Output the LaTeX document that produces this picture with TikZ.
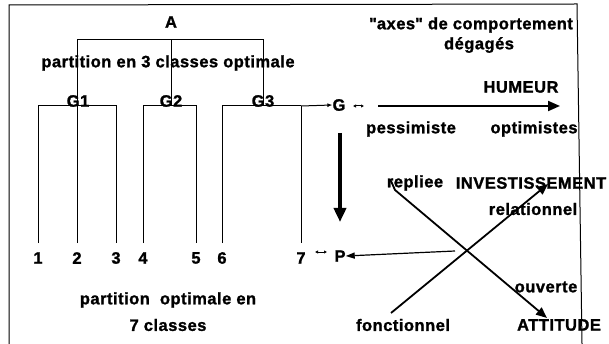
\documentclass[tikz,border=0pt]{standalone}
\usepackage{fontspec}
\setmainfont{Liberation Sans}[BoldFeatures={FakeBold=1.3,LetterSpace=3}]
\usetikzlibrary{arrows.meta}
\begin{document}
\begin{tikzpicture}[x=1pt,y=-1pt,
  lbl/.style={font=\fontsize{16.5}{18}\selectfont\bfseries, inner sep=0pt, anchor=center},
  tree/.style={line width=1pt},
  small/.style={line width=1pt,{Latex[length=3pt,width=3.5pt]}-{Latex[length=3pt,width=3.5pt]}},
  axis/.style={line width=1.8pt,-{Triangle[length=11pt,width=9pt]}}]
\useasboundingbox (0,0) rectangle (609,344);
% frame
\draw[line width=1pt] (9,344) -- (9,5) -- (577,4) -- (582,344);
% labels of the tree
\node[lbl] (A) at (171,22) {A};
\node[lbl] (t3) at (168,63) {partition en 3 classes optimale};
\node[lbl] (G1) at (78,101) {G1};
\node[lbl] (G2) at (171,101) {G2};
\node[lbl] (G3) at (263,101) {G3};
\node[lbl] (n1) at (38,258) {1};
\node[lbl] (n2) at (77,258) {2};
\node[lbl] (n3) at (116,258) {3};
\node[lbl] (n4) at (143,258) {4};
\node[lbl] (n5) at (196,258) {5};
\node[lbl] (n6) at (222,258) {6};
\node[lbl] (n7) at (301,258) {7};
\node[lbl] (t7a) at (168,300) {partition\ \ optimale en};
\node[lbl] (t7b) at (168,325) {7 classes};
% tree coordinates
\coordinate (l1) at (38,243); \coordinate (l2) at (77,243); \coordinate (l3) at (116,243);
\coordinate (l4) at (143,243); \coordinate (l5) at (196,243); \coordinate (l6) at (222,243);
\coordinate (l7) at (301,243);
\draw[tree] (l2) -- (77,40) -- (263,40) -- (263,106);
\draw[tree] (171,40) -- (171,106);
\draw[tree] (l1) -- (38,106) -- (116,106) -- (l3);
\draw[tree] (l4) -- (143,106) -- (196,106) -- (l5);
\draw[tree] (l6) -- (222,106) -- (301,106);
\draw[tree] (301,106) -- (l7);
% G and P
\node[lbl] (G) at (339,105) {G};
\node[lbl] (P) at (340,256) {P};
\draw[tree,-{Latex[length=5pt,width=4pt]}] (301,106) -- (G.west);
\coordinate (ga) at (353,106); \coordinate (gb) at (364,106);
\draw[small] (ga) -- (gb);
\coordinate (pa) at (315,252); \coordinate (pb) at (327,252);
\draw[small] (pa) -- (pb);
\draw[line width=4pt,-{Triangle[length=14pt,width=12pt]}] (340,133) -- (340,222);
% HUMEUR axis
\coordinate (h0) at (378,106); \coordinate (h1) at (560,106);
\draw[line width=2pt,-{Triangle[length=12pt,width=10pt]}] (h0) -- (h1);
\node[lbl] (axes) at (471,25) {\textquotedbl axes\textquotedbl\ de comportement};
\node[lbl] (deg) at (479,45) {dégagés};
\node[lbl] (hum) at (521,87) {HUMEUR};
\node[lbl] (pes) at (411,129) {pessimiste};
\node[lbl] (opt) at (534,129) {optimistes};
% cross
\coordinate (X) at (455,251);
\draw[line width=1.2pt,-{Triangle[length=9pt,width=6pt]}] (X) -- (P.east);
\coordinate (r0) at (391,181); \coordinate (r1) at (395,190); \coordinate (at) at (547,318);
\coordinate (f0) at (391,313); \coordinate (inv) at (548,184);
\draw[axis] (r0) -- (r1) -- (at);
\draw[axis] (f0) -- (inv);
\node[lbl] (rep) at (415,183) {repliee};
\node[lbl] (INV) at (531,183) {INVESTISSEMENT};
\node[lbl] (rel) at (533,209) {relationnel};
\node[lbl] (ouv) at (546,287) {ouverte};
\node[lbl] (ATT) at (559,325) {ATTITUDE};
\node[lbl] (fon) at (403,325) {fonctionnel};
\end{tikzpicture}
\end{document}
